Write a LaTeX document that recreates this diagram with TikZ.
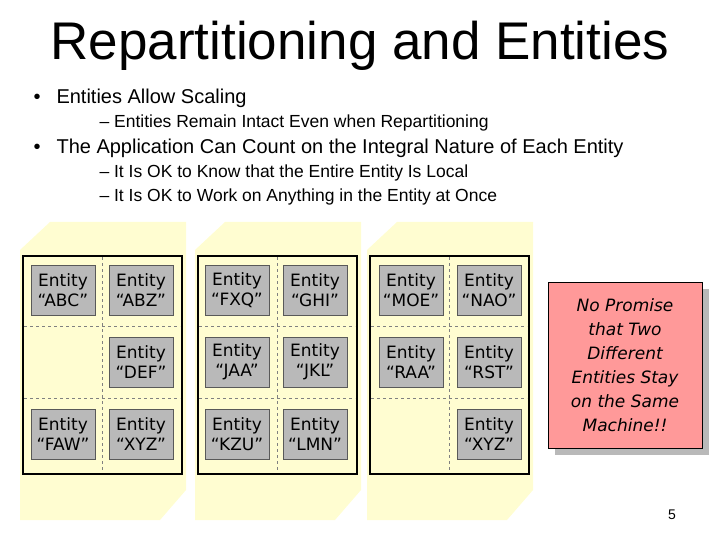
\documentclass[tikz,border=0pt]{standalone}
\usepackage{fontspec}
\setmainfont{Liberation Sans}
\newfontfamily\tah{DejaVu Sans}
\begin{document}
\begin{tikzpicture}[x=1pt,y=-1pt,
 ent/.style={draw=gray!70!black,fill=gray!55,minimum width=64pt,minimum height=50pt,inner sep=0pt,align=center,font=\tah\fontsize{17}{20}\selectfont,line width=0.8pt},
 mach/.style={fill=yellow!18},
 grid/.style={dashed,gray,line width=0.5pt}]
\useasboundingbox (0,0) rectangle (720,540);
\node (title) at (360,46) {\fontsize{53}{56}\selectfont Repartitioning and Entities};
\node[anchor=west] (b1) at (30,98) {\fontsize{20}{22}\selectfont •\hspace{16pt}Entities Allow Scaling};
\node[anchor=west] (s1) at (96,123) {\fontsize{17.5}{19}\selectfont – Entities Remain Intact Even when Repartitioning};
\node[anchor=west] (b2) at (30,148) {\fontsize{20}{22}\selectfont •\hspace{16pt}The Application Can Count on the Integral Nature of Each Entity};
\node[anchor=west] (s2) at (96,173) {\fontsize{17.5}{19}\selectfont – It Is OK to Know that the Entire Entity Is Local};
\node[anchor=west] (s3) at (96,197) {\fontsize{17.5}{19}\selectfont – It Is OK to Work on Anything in the Entity at Once};
\foreach \x in {0,175,347}{
 \fill[mach] (\x+20,250)--(\x+50,222)--(\x+186,222)--(\x+186,490)--(\x+160,520)--(\x+20,520)--cycle;
 \draw[grid] (\x+102,257)--(\x+102,473);
 \draw[grid] (\x+24,326)--(\x+180,326);
 \draw[grid] (\x+24,398)--(\x+180,398);
 \draw[line width=1.5pt] (\x+23,256) rectangle (\x+182,474);
}
\node[ent] (e1) at (63,290) {Entity\\“ABC”};
\node[ent] (e2) at (141,290) {Entity\\“ABZ”};
\node[ent] (e3) at (141,362) {Entity\\“DEF”};
\node[ent] (e4) at (63,434) {Entity\\“FAW”};
\node[ent] (e5) at (141,434) {Entity\\“XYZ”};
\node[ent] (f1) at (237,290) {Entity\\“FXQ”};
\node[ent] (f2) at (315,290) {Entity\\“GHI”};
\node[ent] (f3) at (237,362) {Entity\\“JAA”};
\node[ent] (f4) at (315,362) {Entity\\“JKL”};
\node[ent] (f5) at (237,434) {Entity\\“KZU”};
\node[ent] (f6) at (315,434) {Entity\\“LMN”};
\node[ent] (g1) at (411,290) {Entity\\“MOE”};
\node[ent] (g2) at (489,290) {Entity\\“NAO”};
\node[ent] (g3) at (411,362) {Entity\\“RAA”};
\node[ent] (g4) at (489,362) {Entity\\“RST”};
\node[ent] (g5) at (489,434) {Entity\\“XYZ”};
\fill[gray!55] (555,289) rectangle (709,455);
\node[draw,line width=1pt,fill=red!40,minimum width=154pt,minimum height=166pt,align=center,font=\tah\itshape\fontsize{17}{24}\selectfont] (np) at (625,365) {No Promise\\that Two\\Different\\Entities Stay\\on the Same\\Machine!!};
\node (pg) at (672,515) {\fontsize{14}{16}\selectfont 5};
\end{tikzpicture}
\end{document}
